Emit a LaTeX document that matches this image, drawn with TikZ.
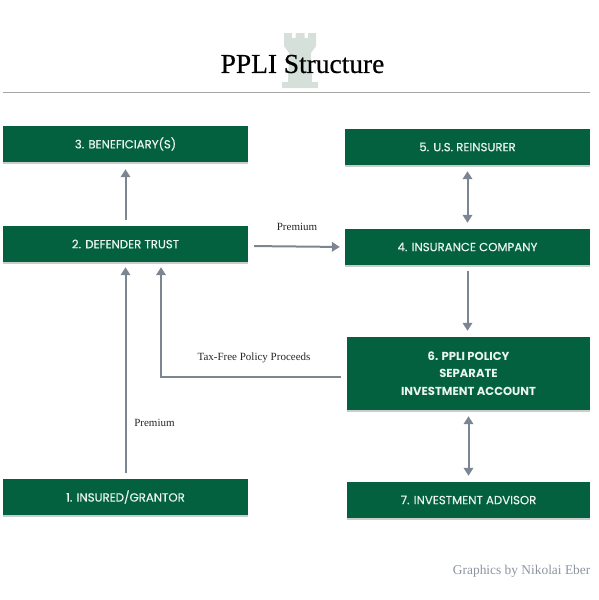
\documentclass[tikz,border=0pt]{standalone}
\usepackage{xcolor}
\usepackage{fontspec}
\setmainfont{Liberation Serif}
\newfontfamily\boxfont[RawFeature={embolden=0.35}]{Poppins}
\newfontfamily\boxboldfont{Poppins}
\newfontfamily\titlefont[RawFeature={embolden=0.5}]{Liberation Serif}
\usetikzlibrary{arrows.meta,shadows}
\definecolor{pineGreen}{HTML}{04613F}
\definecolor{slateArrow}{HTML}{7C8693}
\definecolor{rookTint}{HTML}{D6E0DB}
\definecolor{creditGray}{HTML}{8B94A0}
\definecolor{boxText}{HTML}{EAF5EF}

\begin{document}
\begin{tikzpicture}[
  x=1pt, y=-1pt,
  box/.style={rectangle, fill=pineGreen, text=boxText, align=center, minimum width=245pt, minimum height=36pt, inner sep=0pt, font=\boxfont\fontsize{11.75}{17}\selectfont, drop shadow={shadow xshift=0pt, shadow yshift=-1.5pt, fill=black, opacity=0.2}},
  arrow/.style={-{Triangle[length=8pt, width=9.5pt]}, line width=2pt, draw=slateArrow},
  twoway/.style={{Triangle[length=8pt, width=9.5pt]}-{Triangle[length=8pt, width=9.5pt]}, line width=2pt, draw=slateArrow},
  flowlabel/.style={font=\fontsize{11}{13}\selectfont, text=black!85, inner sep=0pt}
]
\useasboundingbox (0,0) rectangle (599,600);

% title and rule
\fill[rookTint] (284,33) -- (292,33) -- (292,38) -- (295.5,38) -- (295.5,33) -- (304.5,33) -- (304.5,38) -- (308,38) -- (308,33) -- (316,33) -- (316,46) -- (311,53) -- (312,82) -- (318,82) -- (318,88) -- (282,88) -- (282,82) -- (288,82) -- (289,53) -- (284,46) -- cycle;
\node[font=\titlefont\fontsize{27.4}{32}\selectfont, inner sep=0pt] (title) at (302.5,64) {PPLI Structure};
\draw[black!35, line width=0.8pt] (3,92.5) -- (590,92.5);

\node[box] (beneficiary) at (125.5,144) {3. BENEFICIARY(S)};
\node[box] (trust) at (125.5,244) {2. DEFENDER TRUST};
\node[box] (grantor) at (125.5,497) {1. INSURED/GRANTOR};
\node[box] (reinsurer) at (467.5,147) {5. U.S. REINSURER};
\node[box] (insurer) at (467.5,247) {4. INSURANCE COMPANY};
\node[box, minimum width=243pt, minimum height=73pt, font=\boxboldfont\bfseries\fontsize{11.6}{17.5}\selectfont] (policy) at (468.5,373.5) {6. PPLI POLICY\\SEPARATE\\INVESTMENT ACCOUNT};
\node[box, minimum width=243pt] (advisor) at (468.5,500) {7. INVESTMENT ADVISOR};

\node[flowlabel] (premiumtop) at (297,226.5) {Premium};
\node[flowlabel] (premiumleft) at (154.5,423) {Premium};
\node[flowlabel] (proceeds) at (254,358) {Tax-Free Policy Proceeds};
\node[font=\fontsize{13.4}{15}\selectfont, text=creditGray, inner sep=0pt, anchor=east] (credit) at (590.5,571) {Graphics by Nikolai Eber};

\coordinate (taxturn) at (161,377);

\draw[arrow, shorten <=6pt, shorten >=7pt] (trust.north) -- (beneficiary.south);
\draw[arrow, shorten <=6pt, shorten >=5pt] ([yshift=-2pt]trust.east) -- (insurer.west);
\draw[arrow, shorten <=6pt, shorten >=5pt] (grantor.north) -- (trust.south);
\draw[arrow, shorten <=6pt, shorten >=5pt] (policy.west |- taxturn) -- (taxturn) -- (taxturn |- trust.south);
\draw[arrow, shorten <=6pt, shorten >=6pt] (insurer.south) -- (policy.north -| insurer.south);
\draw[twoway, shorten <=6pt, shorten >=6pt] (reinsurer.south) -- (insurer.north);
\draw[twoway, shorten <=6pt, shorten >=6pt] (policy.south) -- (advisor.north);
\end{tikzpicture}
\end{document}
